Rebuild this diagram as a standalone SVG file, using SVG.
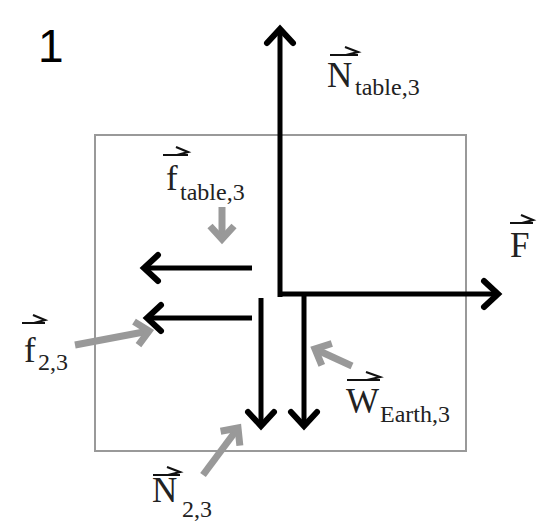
<svg xmlns="http://www.w3.org/2000/svg" width="554" height="526" viewBox="0 0 554 526">
<style>
.lbl{font-family:"Liberation Serif","Times New Roman",serif;fill:#222;}
.main{font-size:35px;}
.sub{font-size:24px;}
.force{stroke:#000;stroke-width:5;fill:none;}
.ptr{stroke:#999;stroke-width:7;fill:none;}
.vec{stroke:#111;stroke-width:2.2;fill:none;}
</style>
<defs>
<marker id="bh" markerUnits="userSpaceOnUse" markerWidth="40" markerHeight="40" viewBox="-20 -20 40 40" refX="0" refY="0" orient="auto" overflow="visible">
<path d="M-14,-13 L0,0 L-14,13" stroke="#000" stroke-width="6" fill="none" stroke-linejoin="miter" stroke-linecap="round"/>
</marker>
<marker id="gh" markerUnits="userSpaceOnUse" markerWidth="40" markerHeight="40" viewBox="-20 -20 40 40" refX="0" refY="0" orient="auto" overflow="visible">
<path d="M-13,-12 L0,0 L-13,12" stroke="#999" stroke-width="7" fill="none" stroke-linejoin="miter" stroke-linecap="butt"/>
</marker>
</defs>
<rect x="0" y="0" width="554" height="526" fill="#fff"/>
<g id="box"><rect x="95" y="135" width="371" height="316" fill="none" stroke="#999" stroke-width="2"/></g>
<text id="num" x="38" y="62" font-family="Liberation Sans, Arial, sans-serif" font-size="46" fill="#000">1</text>
<g id="connectors">
<line class="force" x1="280" y1="297" x2="280" y2="29" marker-end="url(#bh)"/>
<line class="force" x1="278" y1="294" x2="498" y2="294" marker-end="url(#bh)"/>
<line class="force" x1="252" y1="268" x2="144" y2="268" marker-end="url(#bh)"/>
<line class="force" x1="252" y1="318" x2="147" y2="318" marker-end="url(#bh)"/>
<line class="force" x1="261" y1="298" x2="261" y2="426" marker-end="url(#bh)"/>
<line class="force" x1="304" y1="296" x2="304" y2="426" marker-end="url(#bh)"/>
<line class="ptr" x1="222" y1="207" x2="222" y2="239" marker-end="url(#gh)"/>
<line class="ptr" x1="75" y1="345" x2="149" y2="331" marker-end="url(#gh)"/>
<line class="ptr" x1="352" y1="366" x2="315" y2="349" marker-end="url(#gh)"/>
<line class="ptr" x1="203" y1="475" x2="238" y2="428" marker-end="url(#gh)"/>
</g>
<g id="N_table">
<path class="vec" d="M330,55 L358,55 M345,47 L358,52 L346,55"/>
<text class="lbl main" x="327" y="87">N</text>
<text class="lbl sub" x="355" y="95">table,3</text>
</g>
<g id="f_table">
<path class="vec" d="M163,155 L188,155 M176,147 L188,152 L177,155"/>
<text class="lbl main" x="166" y="190">f</text>
<text class="lbl sub" x="180" y="200">table,3</text>
</g>
<g id="F">
<path class="vec" d="M510,223 L533,223 M521,215 L533,220 L522,223"/>
<text class="lbl main" x="510" y="257">F</text>
</g>
<g id="f_23">
<path class="vec" d="M22,323 L45,323 M33,315 L45,320 L34,323"/>
<text class="lbl main" x="24" y="362">f</text>
<text class="lbl sub" x="38" y="370">2,3</text>
</g>
<g id="W">
<path class="vec" d="M347,380 L380,380 M366,372 L380,377 L367,380"/>
<text class="lbl main" x="346" y="413">W</text>
<text class="lbl sub" x="380" y="422">Earth,3</text>
</g>
<g id="N_23">
<path class="vec" d="M153,475 L180,475 M167,467 L180,472 L168,475"/>
<text class="lbl main" x="152" y="502">N</text>
<text class="lbl sub" x="182" y="517">2,3</text>
</g>
</svg>
